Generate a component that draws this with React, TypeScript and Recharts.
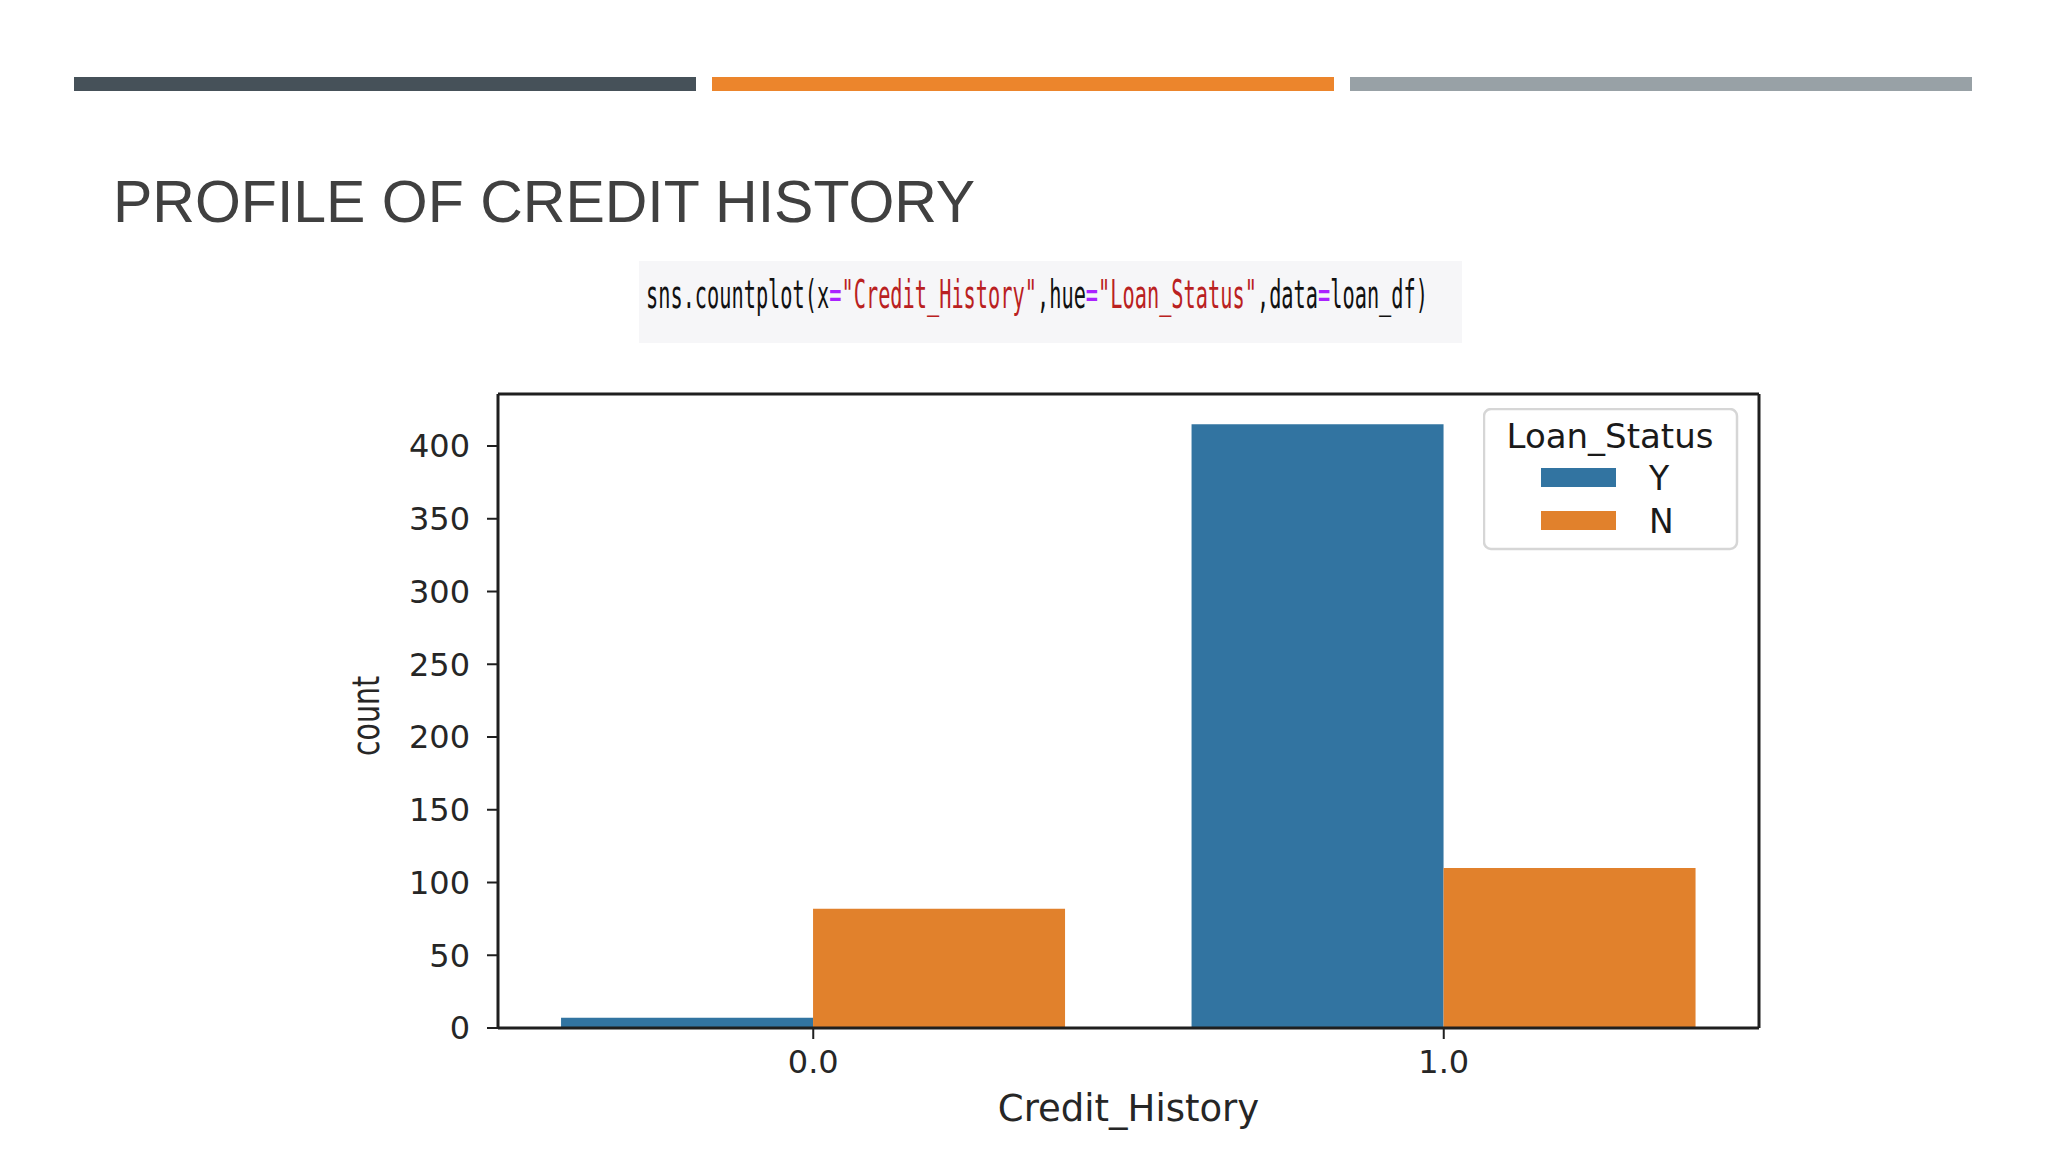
import React from 'react';
import { BarChart, Bar, XAxis, YAxis, Legend } from 'recharts';

const categories = ['0.0', '1.0'];
const statusY = [7, 415];
const statusN = [82, 110];
const yTicks = [0, 50, 100, 150, 200, 250, 300, 350, 400];
const yMax = 435.75;
const seriesNames = ['Y', 'N'];
const seriesColors = ['#3274a1', '#e1812c'];

const data = categories.map((c, i) => ({ cat: c, Y: statusY[i], N: statusN[i] }));

const FONT = '"DejaVu Sans", Verdana, sans-serif';

const YLabel = (props: any) => {
  const vb = props.viewBox || {};
  const cx = vb.x + vb.width - 119;
  const cy = vb.y + vb.height / 2 + 5;
  return (
    <text
      x={cx}
      y={cy}
      transform={`rotate(-90, ${cx}, ${cy})`}
      textAnchor="middle"
      fontFamily={FONT}
      fontSize={38}
      textLength={80}
      lengthAdjust="spacingAndGlyphs"
      fill="#262626"
    >
      count
    </text>
  );
};

const LegendBox = (props: any) => {
  const payload = [...(props.payload || [])].sort(
    (a: any, b: any) => seriesNames.indexOf(a.value) - seriesNames.indexOf(b.value)
  );
  return (
    <svg width={256} height={143} style={{ display: 'block' }}>
      <rect x={1} y={1} width={253} height={140} rx={7} ry={7} fill="#ffffff" stroke="#d6d6d6" strokeWidth={2.5} />
      <text x={127} y={40} textAnchor="middle" fontFamily={FONT} fontSize={34} fill="#1a1a1a">
        Loan_Status
      </text>
      {payload.map((p: any, i: number) => (
        <g key={p.value}>
          <rect x={58} y={60 + i * 43} width={75} height={19} fill={p.color} />
          <text x={166} y={82 + i * 43} fontFamily={FONT} fontSize={33} fill="#1a1a1a">
            {p.value}
          </text>
        </g>
      ))}
    </svg>
  );
};

const codeParts: [string, string][] = [
  ['sns.countplot(x', '#111111'],
  ['=', '#aa22ff'],
  ['"Credit_History"', '#ba2121'],
  [',hue', '#111111'],
  ['=', '#aa22ff'],
  ['"Loan_Status"', '#ba2121'],
  [',data', '#111111'],
  ['=', '#aa22ff'],
  ['loan_df)', '#111111'],
];

const CODE_X = 646;
const CODE_W = 782;
const MONO_ADVANCE = 0.602;

const CodeLine = () => {
  const total = codeParts.reduce((s, [t]) => s + t.length, 0);
  const cw = CODE_W / total;
  const fs = cw / MONO_ADVANCE;
  let pos = 0;
  return (
    <g transform="translate(0, 308) scale(1, 1.9)">
      {codeParts.map(([t, c], i) => {
        const x = CODE_X + pos * cw;
        pos += t.length;
        return (
          <text key={i} x={x} y={0} fill={c} fontFamily='"DejaVu Sans Mono", monospace' fontSize={fs}>
            {t}
          </text>
        );
      })}
    </g>
  );
};

export default function App() {
  return (
    <div style={{ position: 'absolute', left: 0, top: 0, width: 2048, height: 1152, background: '#ffffff', overflow: 'hidden' }}>
      <svg width={2048} height={1152} style={{ position: 'absolute', left: 0, top: 0 }}>
        <rect x={74} y={77} width={622} height={14} fill="#465159" />
        <rect x={712} y={77} width={622} height={14} fill="#ec852c" />
        <rect x={1350} y={77} width={622} height={14} fill="#98a1a6" />
        <text x={113} y={222} fontFamily='"Liberation Sans", Arial, sans-serif' fontSize={59} fill="#404040">
          PROFILE OF CREDIT HISTORY
        </text>
        <rect x={639} y={261} width={823} height={82} fill="#f6f6f8" />
        <CodeLine />
      </svg>
      <div style={{ position: 'absolute', left: 0, top: 0 }}>
        <BarChart
          width={2048}
          height={1152}
          data={data}
          margin={{ top: 384, right: 279, bottom: 0, left: 298 }}
          barCategoryGap="10%"
          barGap={0}
        >
          <XAxis
            dataKey="cat"
            height={124}
            tickSize={11}
            tickMargin={11}
            axisLine={{ stroke: '#1f1f1f', strokeWidth: 3 }}
            tickLine={{ stroke: '#1f1f1f', strokeWidth: 2 }}
            tick={{ fontFamily: FONT, fontSize: 32, fill: '#262626' }}
            label={{ value: 'Credit_History', position: 'insideBottom', offset: 31, fontFamily: FONT, fontSize: 37, fill: '#262626' }}
          />
          <XAxis
            xAxisId="top"
            dataKey="cat"
            orientation="top"
            height={10}
            tick={false}
            tickLine={false}
            axisLine={{ stroke: '#1f1f1f', strokeWidth: 3 }}
          />
          <YAxis
            width={200}
            domain={[0, yMax]}
            ticks={yTicks}
            allowDataOverflow
            tickSize={11}
            tickMargin={17}
            axisLine={{ stroke: '#1f1f1f', strokeWidth: 3 }}
            tickLine={{ stroke: '#1f1f1f', strokeWidth: 2 }}
            tick={{ fontFamily: FONT, fontSize: 32, fill: '#262626' }}
            label={<YLabel />}
          />
          <YAxis
            yAxisId="right"
            orientation="right"
            width={10}
            domain={[0, yMax]}
            tick={false}
            tickLine={false}
            axisLine={{ stroke: '#1f1f1f', strokeWidth: 3 }}
          />
          <Legend
            layout="vertical"
            align="center"
            verticalAlign="middle"
            content={<LegendBox />}
            wrapperStyle={{ position: 'absolute', left: 1483, top: 408, width: 256, height: 143 }}
          />
          {seriesNames.map((name, i) => (
            <Bar key={name} dataKey={name} name={name} fill={seriesColors[i]} isAnimationActive={false} />
          ))}
        </BarChart>
      </div>
    </div>
  );
}
